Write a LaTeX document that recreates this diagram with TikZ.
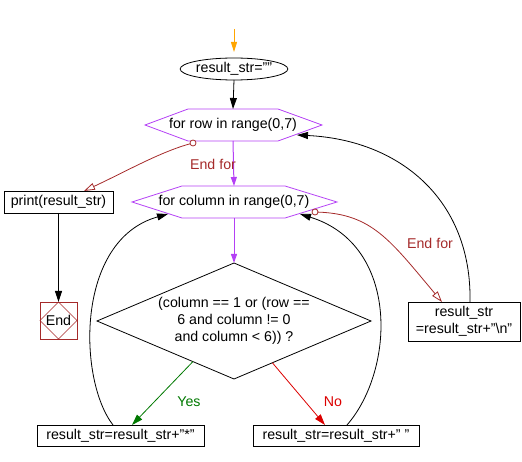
\documentclass[tikz,border=0pt]{standalone}
\usepackage{fontspec}
\setmainfont{Liberation Sans}
\usetikzlibrary{arrows.meta,shapes.geometric,calc}
\definecolor{hexc}{RGB}{180,64,245}
\definecolor{dred}{RGB}{165,42,42}
\definecolor{yesc}{RGB}{0,120,0}
\definecolor{noc}{RGB}{220,0,0}
\definecolor{startc}{RGB}{255,165,0}
\begin{document}
\begin{tikzpicture}[x=1pt,y=-1pt,
  font=\fontsize{14.2}{17}\selectfont,
  every node/.style={inner sep=0pt, outer sep=0pt},
  procbox/.style={draw, line width=0.8pt},
  hexline/.style={draw=hexc, line width=0.8pt},
  blk/.style={line width=0.8pt, -{Triangle[length=11pt,width=7pt]}},
  pur/.style={hexc, line width=1pt, -{Triangle[length=9pt,width=6pt]}},
  endfor/.style={dred, line width=0.8pt, -{Triangle[open,length=11pt,width=7pt]}},
  startdot/.style={circle, draw=dred, fill=white, line width=0.8pt, minimum size=6pt},
  lab/.style={font=\fontsize{14.2}{17}\selectfont}
]
\useasboundingbox (0,0) rectangle (522,462);

% start
\coordinate (s) at (234,29);
\node[ellipse, draw, line width=0.8pt, minimum width=102pt, minimum height=22pt] (init) at (234,69) {result\_str=""};

% hexagon 1
\node[minimum height=32pt] (h1) at (233,125) {for row in range(0,7)};
\draw[hexline] (h1.center) ++(-88,0) -- ++(43,-16) -- ++(90,0) -- ++(44,16) -- ++(-44,16) -- ++(-90,0) -- cycle;

% hexagon 2
\node[minimum height=32pt] (h2) at (234,202) {for column in range(0,7)};
\draw[hexline] (h2.center) ++(-102,0) -- ++(50,-16) -- ++(103,0) -- ++(52,16) -- ++(-52,16) -- ++(-103,0) -- cycle;

% diamond
\node[diamond, draw, line width=0.8pt, minimum width=274pt, minimum height=116pt] (dia) at (234,321) {};
\node[align=center] (diat) at (234,321) {(column == 1 or (row ==\\6 and column != 0\\and column < 6)) ?};

% boxes
\node[procbox, minimum width=109pt, minimum height=22pt] (print) at (58.5,202) {print(result\_str)};
\node[draw=dred, line width=0.8pt, minimum width=37pt, minimum height=37pt] (end) at (58.5,320.5) {End};
\draw[dred, line width=0.5pt] (end.north) -- (end.east) -- (end.south) -- (end.west) -- cycle;
\node[procbox, minimum width=112pt, minimum height=39pt, align=center] (res) at (464,321.5) {result\_str\\=result\_str+"\textbackslash n"};
\node[procbox, minimum width=167pt, minimum height=21pt] (yes) at (120.5,435.5) {result\_str=result\_str+"*"};
\node[procbox, minimum width=166pt, minimum height=21pt] (no) at (336,435.5) {result\_str=result\_str+" "};

% start dots
\node[startdot] (c1) at (193,143) {};
\node[startdot] (c2) at (315,212) {};

% connectors
\draw[startc, line width=1pt, -{Triangle[length=10pt,width=6pt]}, shorten >=6pt] (s) -- (init.north);
\draw[blk] (init.south) -- (h1.north);
\draw[pur] (h1.south) -- (h2.north);
\draw[pur] (h2.south) -- (dia.north);
\draw[blk] (print.south) -- (end.north);

\draw[endfor] (c1) .. controls (160,152) and (125,172) .. ($(print.north)+(25.5,0)$);
\node[dred] (ef1) at (213,164) {End for};

\draw[endfor] (c2) .. controls (372,214) and (390,240) .. ($(res.north)+(-22,0)$);
\node[dred] (ef2) at (430,243) {End for};

\draw[blk] ($(res.north)+(6,0)$) .. controls (472,200) and (400,140) .. (297,135);

\draw[blk] ($(yes.north)+(-7.5,0)$) .. controls (78,380) and (75,240) .. (168,214);
\draw[blk] ($(no.north)+(11,0)$) .. controls (395,370) and (400,245) .. (300,214);

\draw[yesc, line width=0.8pt, -{Triangle[length=11pt,width=7pt]}] ($(dia.south)!0.3!(dia.west)$) -- ($(yes.north)+(11.5,0)$);
\node[yesc] (ylab) at (189,402) {Yes};
\draw[noc, line width=0.8pt, -{Triangle[length=11pt,width=7pt]}] ($(dia.south)!0.28!(dia.east)$) -- ($(no.north)+(-11,0)$);
\node[noc] (nlab) at (333,402) {No};
\end{tikzpicture}
\end{document}
